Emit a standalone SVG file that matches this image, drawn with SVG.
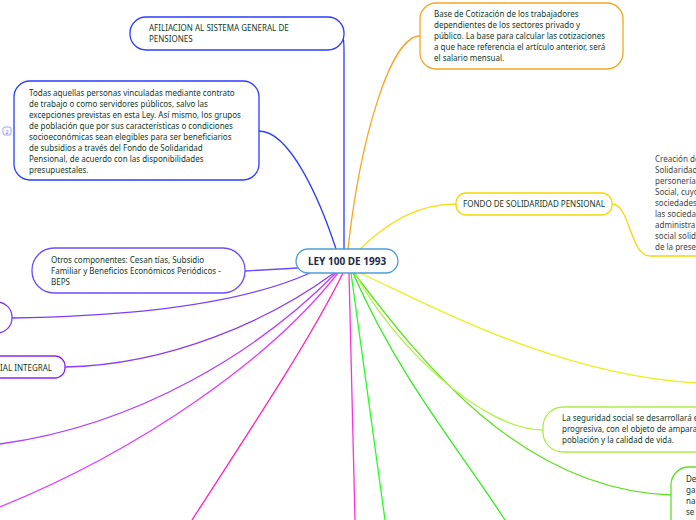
<svg xmlns="http://www.w3.org/2000/svg" width="696" height="520" viewBox="0 0 696 520">
<style>
.n{fill:#fff;stroke-width:1.3}
.t{font-family:"Noto Sans","Open Sans",sans-serif;font-size:8px;fill:#0f3a2a}
.g{font-family:"Noto Sans","Open Sans",sans-serif;font-size:8px;fill:#444}
.c{fill:none;stroke-width:1.3}
</style>
<rect width="696" height="520" fill="#fff"/>
<g id="connectors">
<path class="c" stroke="#2a3cff" d="M344,249 L344,50 Q344,38 342,34"/>
<path class="c" stroke="#2a3cff" d="M259,131 C290,131 320,200 336,249"/>
<path class="c" stroke="#6a4cff" d="M245,271 L298,268"/>
<path class="c" stroke="#7a3cff" d="M12,318 C150,316 250,300 310,273"/>
<path class="c" stroke="#8a3cf0" d="M65,367 C170,365 270,320 334,273"/>
<path class="c" stroke="#b040ff" d="M0,444 C140,425 260,350 336,273"/>
<path class="c" stroke="#e040ff" d="M0,507 C140,450 270,360 338,273"/>
<path class="c" stroke="#ff20c0" d="M192,520 C250,430 310,340 343,273"/>
<path class="c" stroke="#ff30e0" d="M349,273 L355,520"/>
<path class="c" stroke="#20ff20" d="M351,273 L385,520"/>
<path class="c" stroke="#30ee20" d="M353,273 C400,380 460,450 505,520"/>
<path class="c" stroke="#60e020" d="M354,273 C420,360 520,490 671,495"/>
<path class="c" stroke="#b0f040" d="M355,273 C390,340 480,430 543,430"/>
<path class="c" stroke="#e8f020" d="M360,273 C440,310 560,375 696,383"/>
<path class="c" stroke="#f5e020" d="M360,249 C390,220 420,204 456,204"/>
<path class="c" stroke="#f5d800" d="M612,204 C630,204 630,256 650,256 L696,256"/>
<path class="c" stroke="#f5a623" d="M348,249 C360,140 390,36 420,36"/>
</g>
<g id="center"><rect class="n" x="296" y="249" width="102" height="24" rx="12" stroke="#4a9fd8"/><text x="347" y="265" text-anchor="middle" font-family="Noto Sans,sans-serif" font-size="10" font-weight="bold" fill="#1a2a4a">LEY 100 DE 1993</text></g>
<g id="afiliacion"><rect class="n" x="130" y="17" width="214" height="33" rx="16" stroke="#2a3cff"/><text class="t"><tspan x="149" y="31">AFILIACION AL SISTEMA GENERAL DE</tspan><tspan x="149" y="42">PENSIONES</tspan></text></g>
<g id="todas"><rect class="n" x="14" y="81" width="245" height="99" rx="16" stroke="#2a3cff"/><text class="t"><tspan x="29" y="96">Todas aquellas personas vinculadas mediante contrato</tspan><tspan x="29" y="107">de trabajo o como servidores públicos, salvo las</tspan><tspan x="29" y="118">excepciones previstas en esta Ley. Así mismo, los grupos</tspan><tspan x="29" y="129">de población que por sus características o condiciones</tspan><tspan x="29" y="140">socioeconómicas sean elegibles para ser beneficiarios</tspan><tspan x="29" y="151">de subsidios a través del Fondo de Solidaridad</tspan><tspan x="29" y="162">Pensional, de acuerdo con las disponibilidades</tspan><tspan x="29" y="173">presupuestales.</tspan></text>
<rect x="3" y="127" width="8" height="8" rx="2" fill="#fff" stroke="#7a8cff" stroke-width="0.8"/><text x="7" y="133.5" text-anchor="middle" font-family="Noto Sans,sans-serif" font-size="5.5" fill="#5a6cff">2</text></g>
<g id="otros"><rect class="n" x="32" y="248" width="213" height="45" rx="22" stroke="#6a4cff"/><text class="t"><tspan x="51" y="263">Otros componentes: Cesan tías, Subsidio</tspan><tspan x="51" y="274">Familiar y Beneficios Económicos Periódicos -</tspan><tspan x="51" y="285">BEPS</tspan></text></g>
<g id="partial"><rect class="n" x="-30" y="302" width="42" height="31" rx="15" stroke="#7a3cff"/></g>
<g id="integral"><rect class="n" x="-150" y="356" width="215" height="22" rx="10" stroke="#8a2be2"/><text class="t" x="52" y="371" text-anchor="end">SISTEMA DE SEGURIDAD SOCIAL INTEGRAL</text></g>
<g id="base"><rect class="n" x="420" y="3" width="203" height="66" rx="16" stroke="#f5a623"/><text class="t"><tspan x="434" y="17">Base de Cotización de los trabajadores</tspan><tspan x="434" y="28">dependientes de los sectores privado y</tspan><tspan x="434" y="39">público. La base para calcular las cotizaciones</tspan><tspan x="434" y="50">a que hace referencia el artículo anterior, será</tspan><tspan x="434" y="61">el salario mensual.</tspan></text></g>
<g id="fondo"><rect class="n" x="456" y="193" width="156" height="22" rx="10" stroke="#f5d800"/><text class="t" x="534" y="207" text-anchor="middle">FONDO DE SOLIDARIDAD PENSIONAL</text></g>
<g id="creacion"><text class="g"><tspan x="655" y="162">Creación de</tspan><tspan x="655" y="173">Solidaridad</tspan><tspan x="655" y="184">personería</tspan><tspan x="655" y="195">Social, cuyo</tspan><tspan x="655" y="206">sociedades</tspan><tspan x="655" y="217">las socieda</tspan><tspan x="655" y="228">administra</tspan><tspan x="655" y="239">social solid</tspan><tspan x="655" y="250">de la prese</tspan></text></g>
<g id="seguridad"><rect class="n" x="543" y="407" width="180" height="45" rx="20" stroke="#aaee44"/><text class="t"><tspan x="562" y="421">La seguridad social se desarrollará en forma</tspan><tspan x="562" y="432">progresiva, con el objeto de amparar a la</tspan><tspan x="562" y="443">población y la calidad de vida.</tspan></text></g>
<g id="de"><rect class="n" x="671" y="467" width="60" height="70" rx="18" stroke="#60e020"/><text class="t"><tspan x="686" y="482">De</tspan><tspan x="686" y="493">ga</tspan><tspan x="686" y="504">na</tspan><tspan x="686" y="515">se</tspan></text></g>
</svg>
